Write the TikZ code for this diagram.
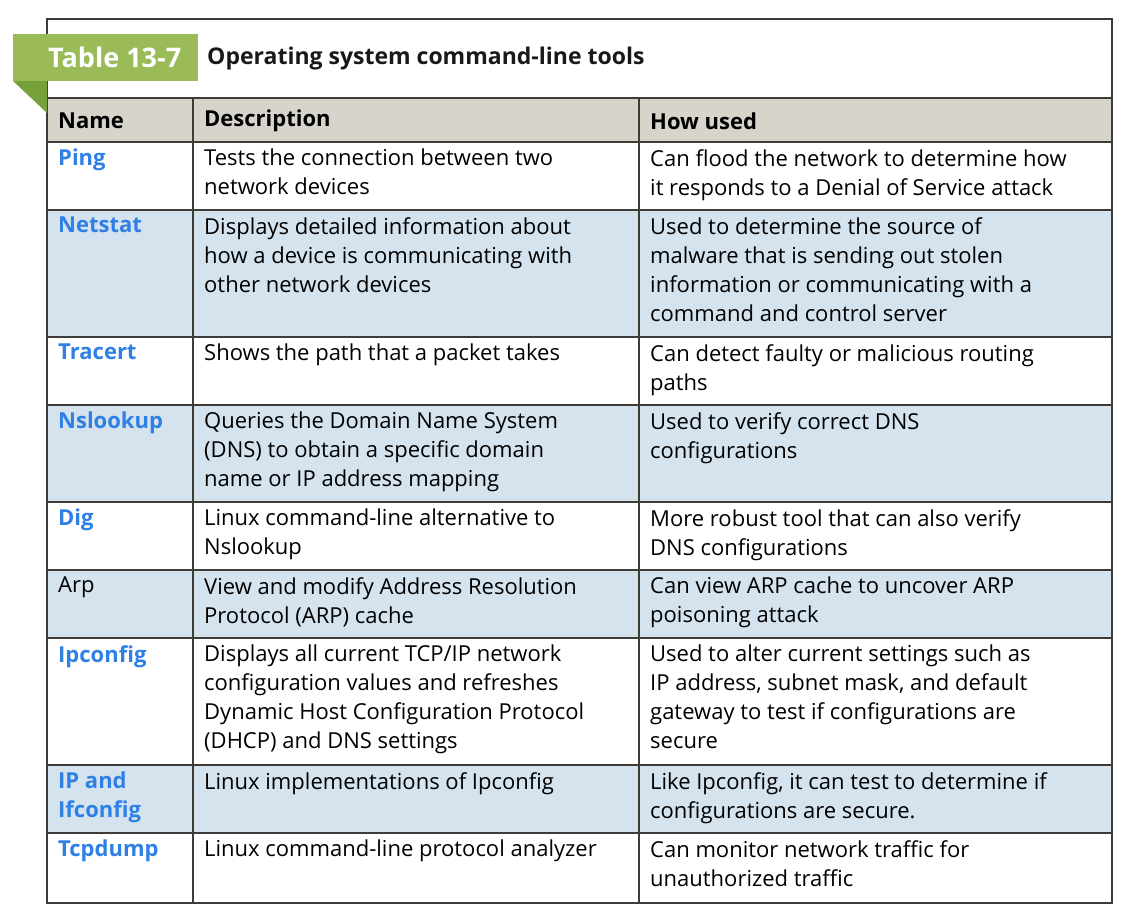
\documentclass[tikz,border=0pt]{standalone}
\usepackage{fontspec}
\setmainfont{Open Sans}
\definecolor{tgreen}{HTML}{9BBB59}
\definecolor{dgreen}{HTML}{76A13A}
\definecolor{hgray}{HTML}{D7D4CB}
\definecolor{rblue}{HTML}{D5E3EF}
\definecolor{nblue}{HTML}{2F80E6}
\definecolor{lgray}{HTML}{3F3B36}
\begin{document}
\begin{tikzpicture}[x=1pt,y=-1pt,
  cell/.style={anchor=north west,inner sep=0pt,align=left,font=\fontsize{22}{29}\selectfont,text=black},
  nm/.style={cell,font=\fontsize{22}{29}\selectfont\bfseries,text=nblue},
  ln/.style={draw=lgray,line width=1.3pt}]
\useasboundingbox (0,0) rectangle (1140,919);
\node[inner sep=0pt] (frame) at (579.5,461) {};
% row fills
\fill[hgray] (47,98) rectangle (1112,142);
\foreach \a/\b in {210/337,405/502,570/638,765/833}{\fill[rblue] (47,\a) rectangle (1112,\b);}
% lines
\draw[ln] (47,19) rectangle (1112,903);
\foreach \y in {98,142,210,337,405,502,570,638,765,833}{\draw[ln] (47,\y) -- (1112,\y);}
\draw[ln] (193,98) -- (193,903);
\draw[ln] (639,98) -- (639,903);
% tab
\fill[tgreen] (13,34) rectangle (198,81);
\fill[dgreen] (13,81) -- (47,81) -- (47,113) -- cycle;
\node[anchor=west,inner sep=0pt,text=white,font=\fontsize{27}{30}\selectfont\bfseries] (tab) at (48,57) {Table 13-7};
\node[anchor=west,inner sep=0pt,font=\fontsize{23}{30}\selectfont\bfseries,text=black!90] (title) at (207,59) {Operating system command-line tools};
% header
\node[cell,font=\fontsize{22}{29}\selectfont\bfseries,anchor=west] (h1) at (58,121) {Name};
\node[cell,font=\fontsize{22}{29}\selectfont\bfseries,anchor=west] (h2) at (204,121) {Description};
\node[cell,font=\fontsize{22}{29}\selectfont\bfseries,anchor=west] (h3) at (650,121) {How used};
% rows
\newcommand\rowx[4]{%
 \node[nm] at (58,#1) {#2};
 \node[cell] at (204,#1) {#3};
 \node[cell] at (650,#1) {#4};}
\rowx{149}{Ping}{Tests the connection between two\\network devices}{Can flood the network to determine how\\it responds to a Denial of Service attack}
\rowx{217}{Netstat}{Displays detailed information about\\how a device is communicating with\\other network devices}{Used to determine the source of\\malware that is sending out stolen\\information or communicating with a\\command and control server}
\rowx{344}{Tracert}{Shows the path that a packet takes}{Can detect faulty or malicious routing\\paths}
\rowx{412}{Nslookup}{Queries the Domain Name System\\(DNS) to obtain a specific domain\\name or IP address mapping}{Used to verify correct DNS\\configurations}
\rowx{509}{Dig}{Linux command-line alternative to\\Nslookup}{More robust tool that can also verify\\DNS configurations}
\node[cell] at (58,577) {Arp};
\node[cell] at (204,577) {View and modify Address Resolution\\Protocol (ARP) cache};
\node[cell] at (650,577) {Can view ARP cache to uncover ARP\\poisoning attack};
\rowx{645}{Ipconfig}{Displays all current TCP/IP network\\configuration values and refreshes\\Dynamic Host Configuration Protocol\\(DHCP) and DNS settings}{Used to alter current settings such as\\IP address, subnet mask, and default\\gateway to test if configurations are\\secure}
\rowx{772}{IP and\\Ifconfig}{Linux implementations of Ipconfig}{Like Ipconfig, it can test to determine if\\configurations are secure.}
\rowx{840}{Tcpdump}{Linux command-line protocol analyzer}{Can monitor network traffic for\\unauthorized traffic}
\end{tikzpicture}
\end{document}
